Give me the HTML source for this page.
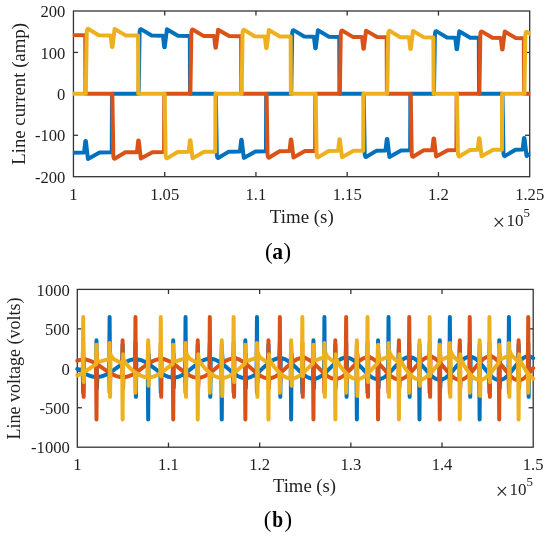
<!DOCTYPE html><html><head><meta charset="utf-8"><title>Line current and line voltage</title><style>html,body{margin:0;padding:0;background:#fff;width:550px;height:539px;overflow:hidden}svg{display:block}</style></head><body><svg width="550" height="539" viewBox="0 0 550 539"><rect width="550" height="539" fill="#fff"/><defs><clipPath id="ca"><rect x="72.85" y="10.40" width="457.45" height="166.90"/></clipPath><clipPath id="cb"><rect x="77.3" y="289.4" width="455.90" height="157.80"/></clipPath></defs>
<rect x="73.45" y="11.0" width="456.25" height="165.70" fill="none" stroke="#333333" stroke-width="1.3"/>
<line x1="164.70" y1="176.7" x2="164.70" y2="172.1" stroke="#333333" stroke-width="1.3"/>
<line x1="164.70" y1="11.0" x2="164.70" y2="15.6" stroke="#333333" stroke-width="1.3"/>
<line x1="255.95" y1="176.7" x2="255.95" y2="172.1" stroke="#333333" stroke-width="1.3"/>
<line x1="255.95" y1="11.0" x2="255.95" y2="15.6" stroke="#333333" stroke-width="1.3"/>
<line x1="347.20" y1="176.7" x2="347.20" y2="172.1" stroke="#333333" stroke-width="1.3"/>
<line x1="347.20" y1="11.0" x2="347.20" y2="15.6" stroke="#333333" stroke-width="1.3"/>
<line x1="438.45" y1="176.7" x2="438.45" y2="172.1" stroke="#333333" stroke-width="1.3"/>
<line x1="438.45" y1="11.0" x2="438.45" y2="15.6" stroke="#333333" stroke-width="1.3"/>
<line x1="73.45" y1="52.42" x2="78.05" y2="52.42" stroke="#333333" stroke-width="1.3"/>
<line x1="529.7" y1="52.42" x2="525.1" y2="52.42" stroke="#333333" stroke-width="1.3"/>
<line x1="73.45" y1="93.85" x2="78.05" y2="93.85" stroke="#333333" stroke-width="1.3"/>
<line x1="529.7" y1="93.85" x2="525.1" y2="93.85" stroke="#333333" stroke-width="1.3"/>
<line x1="73.45" y1="135.27" x2="78.05" y2="135.27" stroke="#333333" stroke-width="1.3"/>
<line x1="529.7" y1="135.27" x2="525.1" y2="135.27" stroke="#333333" stroke-width="1.3"/>
<rect x="77.3" y="289.4" width="455.90" height="157.80" fill="none" stroke="#333333" stroke-width="1.3"/>
<line x1="168.48" y1="447.2" x2="168.48" y2="442.59999999999997" stroke="#333333" stroke-width="1.3"/>
<line x1="168.48" y1="289.4" x2="168.48" y2="294.0" stroke="#333333" stroke-width="1.3"/>
<line x1="259.66" y1="447.2" x2="259.66" y2="442.59999999999997" stroke="#333333" stroke-width="1.3"/>
<line x1="259.66" y1="289.4" x2="259.66" y2="294.0" stroke="#333333" stroke-width="1.3"/>
<line x1="350.84" y1="447.2" x2="350.84" y2="442.59999999999997" stroke="#333333" stroke-width="1.3"/>
<line x1="350.84" y1="289.4" x2="350.84" y2="294.0" stroke="#333333" stroke-width="1.3"/>
<line x1="442.02" y1="447.2" x2="442.02" y2="442.59999999999997" stroke="#333333" stroke-width="1.3"/>
<line x1="442.02" y1="289.4" x2="442.02" y2="294.0" stroke="#333333" stroke-width="1.3"/>
<line x1="77.3" y1="328.85" x2="81.89999999999999" y2="328.85" stroke="#333333" stroke-width="1.3"/>
<line x1="533.2" y1="328.85" x2="528.6" y2="328.85" stroke="#333333" stroke-width="1.3"/>
<line x1="77.3" y1="368.30" x2="81.89999999999999" y2="368.30" stroke="#333333" stroke-width="1.3"/>
<line x1="533.2" y1="368.30" x2="528.6" y2="368.30" stroke="#333333" stroke-width="1.3"/>
<line x1="77.3" y1="407.75" x2="81.89999999999999" y2="407.75" stroke="#333333" stroke-width="1.3"/>
<line x1="533.2" y1="407.75" x2="528.6" y2="407.75" stroke="#333333" stroke-width="1.3"/>
<g clip-path="url(#ca)" fill="none" stroke-width="4.00" stroke-linejoin="round" stroke-linecap="round">
<path stroke="#0072BD" d="M-110.08 152.05 L-81.78 153.60 L-80.48 142.00 L-79.98 142.00 L-77.88 160.02 L-66.28 153.60 L-52.21 153.41 L-52.01 93.85 L-23.56 93.85 L-22.56 30.54 L-21.96 28.47 L-21.26 28.06 L-10.56 34.48 L2.53 34.66 L3.83 46.26 L4.33 46.26 L6.53 28.24 L17.53 34.66 L31.16 34.84 L31.36 93.85 L58.88 93.85 L59.88 156.61 L60.48 158.68 L61.18 159.09 L71.88 152.67 L84.06 152.49 L85.36 140.90 L85.86 140.90 L87.96 158.92 L99.56 152.49 L111.78 152.32 L111.98 93.85 L138.63 93.85 L139.63 31.62 L140.23 29.55 L140.93 29.14 L151.63 35.56 L162.93 35.73 L164.23 47.33 L164.73 47.33 L166.93 29.31 L177.93 35.73 L189.81 35.90 L190.01 93.85 L215.82 93.85 L216.82 155.56 L217.42 157.63 L218.12 158.05 L228.82 151.63 L239.91 151.46 L241.21 139.86 L241.71 139.86 L243.81 157.88 L255.41 151.46 L265.99 151.29 L266.19 93.85 L291.21 93.85 L292.21 32.64 L292.81 30.57 L293.51 30.15 L304.21 36.58 L313.93 36.74 L315.23 48.34 L315.73 48.34 L317.93 30.32 L328.93 36.74 L339.25 36.90 L339.45 93.85 L363.73 93.85 L364.73 154.58 L365.33 156.65 L366.03 157.06 L376.73 150.64 L385.53 150.48 L386.83 138.89 L387.33 138.89 L389.43 156.90 L401.03 150.48 L410.15 150.33 L410.35 93.85 L433.94 93.85 L434.94 33.59 L435.54 31.52 L436.24 31.11 L446.94 37.53 L455.26 37.68 L456.56 49.28 L457.06 49.28 L459.26 31.26 L470.26 37.68 L478.82 37.83 L479.02 93.85 L502.47 93.85 L503.47 153.65 L504.07 155.72 L504.77 156.14 L515.47 149.72 L522.67 149.57 L523.97 137.97 L524.47 137.97 L526.57 155.99 L538.17 149.57 L546.02 149.42 L546.22 93.85 L568.58 93.85 L569.58 34.49 L570.18 32.42 L570.88 32.00 L581.58 38.43 L588.70 38.57 L590.00 50.17 L590.50 50.17 L592.70 32.15 L603.70 38.57"/>
<path stroke="#D95319" d="M-110.08 35.65 L-80.63 34.10 L-80.43 93.85 L-51.66 93.85 L-50.66 157.35 L-50.06 159.42 L-49.36 159.83 L-38.66 153.41 L-25.26 153.22 L-23.96 141.62 L-23.46 141.62 L-21.36 159.64 L-9.76 153.22 L3.68 153.04 L3.88 93.85 L31.71 93.85 L32.71 30.91 L33.31 28.84 L34.01 28.42 L44.71 34.84 L57.18 35.03 L58.48 46.63 L58.98 46.63 L61.18 28.61 L72.18 35.03 L85.21 35.21 L85.41 93.85 L112.33 93.85 L113.33 156.25 L113.93 158.32 L114.63 158.74 L125.33 152.32 L136.93 152.14 L138.23 140.54 L138.73 140.54 L140.83 158.56 L152.43 152.14 L164.08 151.97 L164.28 93.85 L190.36 93.85 L191.36 31.97 L191.96 29.90 L192.66 29.48 L203.36 35.90 L214.12 36.07 L215.42 47.67 L215.92 47.67 L218.12 29.65 L229.12 36.07 L241.06 36.24 L241.26 93.85 L266.54 93.85 L267.54 155.22 L268.14 157.30 L268.84 157.71 L279.54 151.29 L289.51 151.12 L290.81 139.53 L291.31 139.53 L293.41 157.55 L305.01 151.12 L315.08 150.96 L315.28 93.85 L339.80 93.85 L340.80 32.96 L341.40 30.89 L342.10 30.48 L352.80 36.90 L362.03 37.06 L363.33 48.66 L363.83 48.66 L366.03 30.64 L377.03 37.06 L386.68 37.22 L386.88 93.85 L410.70 93.85 L411.70 154.26 L412.30 156.33 L413.00 156.75 L423.70 150.33 L432.24 150.17 L433.54 138.57 L434.04 138.57 L436.14 156.59 L447.74 150.17 L456.41 150.02 L456.61 93.85 L479.37 93.85 L480.37 33.90 L480.97 31.82 L481.67 31.41 L492.37 37.83 L500.77 37.98 L502.07 49.58 L502.57 49.58 L504.77 31.56 L515.77 37.98 L523.82 38.13 L524.02 93.85 L546.57 93.85 L547.57 153.36 L548.17 155.43 L548.87 155.84 L559.57 149.42 L566.88 149.27 L568.18 137.68 L568.68 137.68 L570.78 155.70 L582.38 149.27 L589.85 149.13 L590.05 93.85"/>
<path stroke="#EDB120" d="M-110.08 93.85 L-80.08 93.85 L-79.08 30.16 L-78.48 28.09 L-77.78 27.68 L-67.08 34.10 L-53.36 34.29 L-52.06 45.89 L-51.56 45.89 L-49.36 27.87 L-38.36 34.29 L-24.11 34.48 L-23.91 93.85 L4.23 93.85 L5.23 156.97 L5.83 159.05 L6.53 159.46 L17.23 153.04 L30.01 152.86 L31.31 141.26 L31.81 141.26 L33.91 159.28 L45.51 152.86 L58.33 152.67 L58.53 93.85 L85.76 93.85 L86.76 31.27 L87.36 29.20 L88.06 28.78 L98.76 35.21 L110.63 35.38 L111.93 46.98 L112.43 46.98 L114.63 28.96 L125.63 35.38 L138.08 35.56 L138.28 93.85 L164.63 93.85 L165.63 155.90 L166.23 157.98 L166.93 158.39 L177.63 151.97 L188.66 151.80 L189.96 140.20 L190.46 140.20 L192.56 158.22 L204.16 151.80 L215.27 151.63 L215.47 93.85 L241.61 93.85 L242.61 32.31 L243.21 30.24 L243.91 29.82 L254.61 36.24 L264.84 36.41 L266.14 48.01 L266.64 48.01 L268.84 29.99 L279.84 36.41 L290.66 36.58 L290.86 93.85 L315.63 93.85 L316.63 154.90 L317.23 156.97 L317.93 157.38 L328.63 150.96 L338.10 150.80 L339.40 139.20 L339.90 139.20 L342.00 157.22 L353.60 150.80 L363.18 150.64 L363.38 93.85 L387.23 93.85 L388.23 33.28 L388.83 31.21 L389.53 30.80 L400.23 37.22 L409.00 37.37 L410.30 48.97 L410.80 48.97 L413.00 30.95 L424.00 37.37 L433.39 37.53 L433.59 93.85 L456.96 93.85 L457.96 153.95 L458.56 156.03 L459.26 156.44 L469.96 150.02 L477.67 149.87 L478.97 138.27 L479.47 138.27 L481.57 156.29 L493.17 149.87 L501.92 149.72 L502.12 93.85 L524.37 93.85 L525.37 34.20 L525.97 32.12 L526.67 31.71 L537.37 38.13 L544.87 38.28 L546.17 49.88 L546.67 49.88 L548.87 31.86 L559.87 38.28 L568.03 38.43 L568.23 93.85 L590.40 93.85 L591.40 153.06 L592.00 155.14 L592.70 155.55 L603.40 149.13"/>
</g>
<g fill="none" stroke-width="4.00" stroke-linejoin="round" stroke-linecap="round">
<path stroke="#0072BD" d="M77.30 368.84 L77.80 369.18 L78.30 369.51 L78.80 369.84 L79.30 370.16 L79.80 370.49 L80.30 370.81 L80.80 371.13 L81.30 371.44 L81.80 371.75 L82.30 372.06 L82.75 372.33 L83.20 392.76 L83.65 372.85 L83.80 372.94 L84.30 373.23 L84.80 373.50 L85.30 373.77 L85.80 374.03 L86.30 374.28 L86.80 374.52 L87.30 374.75 L87.80 374.98 L88.30 375.19 L88.80 375.39 L89.30 375.58 L89.80 375.76 L90.30 375.93 L90.80 376.09 L91.30 376.23 L91.80 376.36 L92.30 376.48 L92.80 376.59 L93.30 376.69 L93.80 376.77 L94.30 376.84 L94.80 376.89 L95.30 376.93 L95.80 376.96 L96.03 376.97 L96.48 340.29 L96.93 388.02 L97.38 376.96 L97.80 376.94 L98.30 376.90 L98.80 376.85 L99.30 376.78 L99.80 376.70 L100.30 376.61 L100.80 376.50 L101.30 376.38 L101.80 376.24 L102.30 376.10 L102.80 375.94 L103.30 375.77 L103.80 375.59 L104.30 375.39 L104.80 375.19 L105.30 374.97 L105.80 374.74 L106.30 374.50 L106.80 374.25 L107.30 373.99 L107.80 373.73 L108.30 373.45 L108.80 373.17 L109.16 372.95 L109.61 317.01 L110.06 382.27 L110.51 372.13 L110.80 371.94 L111.30 371.62 L111.80 371.29 L112.30 370.96 L112.80 370.62 L113.30 370.28 L113.80 369.93 L114.30 369.58 L114.80 369.23 L115.30 368.88 L115.80 368.52 L116.30 368.16 L116.80 367.81 L117.30 367.45 L117.80 367.10 L118.30 366.75 L118.80 366.40 L119.30 366.05 L119.80 365.71 L120.30 365.37 L120.80 365.03 L121.30 364.70 L121.80 364.38 L122.16 364.15 L122.61 344.63 L123.06 363.59 L123.30 363.44 L123.80 363.14 L124.30 362.84 L124.80 362.56 L125.30 362.29 L125.80 362.02 L126.30 361.77 L126.80 361.53 L127.30 361.29 L127.80 361.07 L128.30 360.86 L128.80 360.67 L129.30 360.48 L129.80 360.31 L130.30 360.15 L130.80 360.01 L131.30 359.87 L131.80 359.76 L132.30 359.65 L132.80 359.56 L133.30 359.49 L133.80 359.43 L134.30 359.38 L134.80 359.35 L135.01 359.34 L135.46 342.97 L135.91 396.86 L136.36 359.35 L136.80 359.38 L137.30 359.42 L137.80 359.48 L138.30 359.56 L138.80 359.65 L139.30 359.75 L139.80 359.87 L140.30 360.00 L140.80 360.15 L141.30 360.31 L141.80 360.49 L142.30 360.68 L142.80 360.88 L143.30 361.09 L143.80 361.32 L144.30 361.56 L144.80 361.81 L145.30 362.07 L145.80 362.34 L146.30 362.62 L146.80 362.92 L147.30 363.22 L147.73 363.48 L148.18 419.58 L148.63 354.33 L149.08 364.37 L149.30 364.52 L149.80 364.86 L150.30 365.21 L150.80 365.57 L151.30 365.93 L151.80 366.30 L152.30 366.67 L152.80 367.04 L153.30 367.41 L153.80 367.79 L154.30 368.17 L154.80 368.55 L155.30 368.93 L155.80 369.31 L156.30 369.68 L156.80 370.06 L157.30 370.43 L157.80 370.80 L158.30 371.16 L158.80 371.52 L159.30 371.88 L159.80 372.22 L160.32 372.58 L160.77 392.76 L161.22 373.18 L161.80 373.55 L162.30 373.87 L162.80 374.17 L163.30 374.46 L163.80 374.75 L164.30 375.02 L164.80 375.28 L165.30 375.53 L165.80 375.76 L166.30 375.98 L166.80 376.19 L167.30 376.39 L167.80 376.57 L168.30 376.74 L168.80 376.89 L169.30 377.03 L169.80 377.15 L170.30 377.25 L170.80 377.34 L171.30 377.42 L171.80 377.47 L172.30 377.52 L172.77 377.54 L173.22 340.29 L173.67 388.02 L174.12 377.53 L174.30 377.52 L174.80 377.48 L175.30 377.42 L175.80 377.35 L176.30 377.26 L176.80 377.15 L177.30 377.03 L177.80 376.89 L178.30 376.74 L178.80 376.57 L179.30 376.39 L179.80 376.19 L180.30 375.97 L180.80 375.75 L181.30 375.50 L181.80 375.25 L182.30 374.98 L182.80 374.70 L183.30 374.41 L183.80 374.11 L184.30 373.80 L184.80 373.47 L185.10 373.28 L185.55 317.01 L186.00 382.27 L186.45 372.34 L186.80 372.08 L187.30 371.71 L187.80 371.34 L188.30 370.95 L188.80 370.57 L189.30 370.17 L189.80 369.78 L190.30 369.38 L190.80 368.98 L191.30 368.58 L191.80 368.18 L192.30 367.77 L192.80 367.37 L193.30 366.97 L193.80 366.57 L194.30 366.17 L194.80 365.78 L195.30 365.39 L195.80 365.01 L196.30 364.63 L196.80 364.26 L197.30 363.90 L197.75 344.63 L198.20 363.26 L198.30 363.19 L198.80 362.85 L199.30 362.51 L199.80 362.19 L200.30 361.88 L200.80 361.59 L201.30 361.30 L201.80 361.03 L202.30 360.77 L202.80 360.52 L203.30 360.29 L203.80 360.07 L204.30 359.87 L204.80 359.69 L205.30 359.52 L205.80 359.37 L206.30 359.23 L206.80 359.11 L207.30 359.01 L207.80 358.92 L208.30 358.86 L208.80 358.81 L209.37 358.77 L209.82 342.97 L210.27 396.86 L210.72 358.78 L211.30 358.83 L211.80 358.89 L212.30 358.97 L212.80 359.06 L213.30 359.17 L213.80 359.30 L214.30 359.45 L214.80 359.62 L215.30 359.80 L215.80 360.00 L216.30 360.21 L216.80 360.44 L217.30 360.69 L217.80 360.95 L218.30 361.22 L218.80 361.51 L219.30 361.81 L219.80 362.13 L220.30 362.45 L220.80 362.79 L221.33 363.16 L221.78 419.58 L222.23 354.33 L222.68 364.16 L222.80 364.25 L223.30 364.64 L223.80 365.04 L224.30 365.44 L224.80 365.85 L225.30 366.26 L225.80 366.68 L226.30 367.11 L226.80 367.53 L227.30 367.96 L227.80 368.39 L228.30 368.81 L228.80 369.24 L229.30 369.67 L229.80 370.09 L230.30 370.51 L230.80 370.93 L231.30 371.34 L231.80 371.75 L232.30 372.15 L232.80 372.54 L233.17 372.82 L233.62 392.76 L234.07 373.50 L234.30 373.67 L234.80 374.03 L235.30 374.38 L235.80 374.71 L236.30 375.04 L236.80 375.35 L237.30 375.65 L237.80 375.93 L238.30 376.20 L238.80 376.45 L239.30 376.68 L239.80 376.90 L240.30 377.11 L240.80 377.29 L241.30 377.46 L241.80 377.61 L242.30 377.74 L242.80 377.85 L243.30 377.94 L243.80 378.02 L244.30 378.07 L244.89 378.11 L245.34 340.29 L245.79 388.02 L246.24 378.10 L246.80 378.05 L247.30 377.99 L247.80 377.90 L248.30 377.80 L248.80 377.68 L249.30 377.54 L249.80 377.37 L250.30 377.20 L250.80 377.00 L251.30 376.78 L251.80 376.55 L252.30 376.30 L252.80 376.03 L253.30 375.75 L253.80 375.45 L254.30 375.14 L254.80 374.81 L255.30 374.47 L255.80 374.12 L256.30 373.76 L256.51 373.60 L256.96 317.01 L257.41 382.27 L257.86 372.54 L258.30 372.18 L258.80 371.76 L259.30 371.33 L259.80 370.90 L260.30 370.46 L260.80 370.02 L261.30 369.57 L261.80 369.12 L262.30 368.67 L262.80 368.22 L263.30 367.76 L263.80 367.31 L264.30 366.86 L264.80 366.41 L265.30 365.97 L265.80 365.53 L266.30 365.09 L266.80 364.66 L267.30 364.24 L267.80 363.83 L268.01 363.66 L268.46 344.63 L268.91 362.94 L269.30 362.64 L269.80 362.26 L270.30 361.90 L270.80 361.55 L271.30 361.21 L271.80 360.89 L272.30 360.58 L272.80 360.29 L273.30 360.02 L273.80 359.76 L274.30 359.52 L274.80 359.30 L275.30 359.10 L275.80 358.92 L276.30 358.76 L276.80 358.62 L277.30 358.49 L277.80 358.39 L278.30 358.31 L278.80 358.25 L279.30 358.21 L279.41 358.21 L279.86 342.97 L280.31 396.86 L280.76 358.22 L281.30 358.27 L281.80 358.34 L282.30 358.43 L282.80 358.55 L283.30 358.68 L283.80 358.83 L284.30 359.01 L284.80 359.20 L285.30 359.42 L285.80 359.65 L286.30 359.90 L286.80 360.17 L287.30 360.46 L287.80 360.77 L288.30 361.09 L288.80 361.43 L289.30 361.78 L289.80 362.15 L290.30 362.53 L290.70 362.84 L291.15 419.58 L291.60 354.33 L292.05 363.96 L292.30 364.18 L292.80 364.62 L293.30 365.07 L293.80 365.52 L294.30 365.98 L294.80 366.45 L295.30 366.92 L295.80 367.40 L296.30 367.88 L296.80 368.35 L297.30 368.83 L297.80 369.31 L298.30 369.79 L298.80 370.26 L299.30 370.73 L299.80 371.20 L300.30 371.66 L300.80 372.11 L301.30 372.55 L301.89 373.06 L302.34 392.76 L302.79 373.82 L303.30 374.24 L303.80 374.63 L304.30 375.01 L304.80 375.37 L305.30 375.72 L305.80 376.05 L306.30 376.37 L306.80 376.67 L307.30 376.95 L307.80 377.21 L308.30 377.45 L308.80 377.67 L309.30 377.87 L309.80 378.05 L310.30 378.21 L310.80 378.34 L311.30 378.45 L311.80 378.54 L312.30 378.61 L312.80 378.66 L312.98 378.67 L313.43 340.29 L313.88 388.02 L314.33 378.65 L314.80 378.60 L315.30 378.53 L315.80 378.44 L316.30 378.32 L316.80 378.18 L317.30 378.01 L317.80 377.83 L318.30 377.62 L318.80 377.39 L319.30 377.14 L319.80 376.87 L320.30 376.58 L320.80 376.27 L321.30 375.94 L321.80 375.60 L322.30 375.24 L322.80 374.86 L323.30 374.47 L323.80 374.06 L323.97 373.92 L324.42 317.01 L324.87 382.27 L325.32 372.74 L325.80 372.30 L326.30 371.83 L326.80 371.35 L327.30 370.87 L327.80 370.38 L328.30 369.88 L328.80 369.38 L329.30 368.88 L329.80 368.38 L330.30 367.87 L330.80 367.37 L331.30 366.86 L331.80 366.36 L332.30 365.87 L332.80 365.38 L333.30 364.89 L333.80 364.42 L334.30 363.95 L334.88 363.42 L335.33 344.63 L335.78 362.63 L336.30 362.18 L336.80 361.77 L337.30 361.37 L337.80 360.99 L338.30 360.62 L338.80 360.28 L339.30 359.95 L339.80 359.64 L340.30 359.35 L340.80 359.08 L341.30 358.84 L341.80 358.61 L342.30 358.41 L342.80 358.23 L343.30 358.08 L343.80 357.94 L344.30 357.84 L344.80 357.75 L345.30 357.70 L345.69 357.67 L346.14 342.97 L346.59 396.86 L347.04 357.69 L347.30 357.71 L347.80 357.78 L348.30 357.87 L348.80 357.99 L349.30 358.13 L349.80 358.30 L350.30 358.49 L350.80 358.70 L351.30 358.94 L351.80 359.20 L352.30 359.48 L352.80 359.79 L353.30 360.11 L353.80 360.45 L354.30 360.81 L354.80 361.20 L355.30 361.59 L355.80 362.01 L356.30 362.44 L356.41 362.53 L356.86 419.58 L357.31 354.33 L357.76 363.77 L358.30 364.30 L358.80 364.79 L359.30 365.29 L359.80 365.80 L360.30 366.32 L360.80 366.84 L361.30 367.37 L361.80 367.90 L362.30 368.43 L362.80 368.96 L363.30 369.49 L363.80 370.01 L364.30 370.54 L364.80 371.06 L365.30 371.57 L365.80 372.07 L366.30 372.57 L366.80 373.05 L367.05 373.29 L367.50 392.76 L367.95 374.12 L368.30 374.44 L368.80 374.88 L369.30 375.30 L369.80 375.70 L370.30 376.09 L370.80 376.46 L371.30 376.80 L371.80 377.13 L372.30 377.44 L372.80 377.72 L373.30 377.98 L373.80 378.22 L374.30 378.43 L374.80 378.62 L375.30 378.78 L375.80 378.91 L376.30 379.02 L376.80 379.11 L377.30 379.17 L377.60 379.19 L378.05 340.29 L378.50 388.02 L378.95 379.17 L379.30 379.13 L379.80 379.05 L380.30 378.95 L380.80 378.81 L381.30 378.66 L381.80 378.47 L382.30 378.26 L382.80 378.03 L383.30 377.77 L383.80 377.49 L384.30 377.18 L384.80 376.86 L385.30 376.51 L385.80 376.14 L386.30 375.74 L386.80 375.34 L387.30 374.91 L387.80 374.46 L388.08 374.21 L388.53 317.01 L388.98 382.27 L389.43 372.91 L389.80 372.53 L390.30 372.02 L390.80 371.49 L391.30 370.96 L391.80 370.42 L392.30 369.87 L392.80 369.32 L393.30 368.77 L393.80 368.22 L394.30 367.66 L394.80 367.11 L395.30 366.56 L395.80 366.01 L396.30 365.47 L396.80 364.93 L397.30 364.40 L397.80 363.89 L398.30 363.38 L398.47 363.21 L398.92 344.63 L399.37 362.33 L399.80 361.93 L400.30 361.48 L400.80 361.04 L401.30 360.63 L401.80 360.23 L402.30 359.85 L402.80 359.49 L403.30 359.16 L403.80 358.85 L404.30 358.56 L404.80 358.30 L405.30 358.06 L405.80 357.85 L406.30 357.67 L406.80 357.51 L407.30 357.39 L407.80 357.29 L408.30 357.21 L408.79 357.17 L409.24 342.97 L409.69 396.86 L410.14 357.20 L410.30 357.21 L410.80 357.28 L411.30 357.39 L411.80 357.51 L412.30 357.67 L412.80 357.86 L413.30 358.07 L413.80 358.31 L414.30 358.58 L414.80 358.87 L415.30 359.18 L415.80 359.52 L416.30 359.89 L416.80 360.27 L417.30 360.68 L417.80 361.11 L418.30 361.55 L418.80 362.02 L419.04 362.25 L419.49 419.58 L419.94 354.33 L420.39 363.61 L420.80 364.04 L421.30 364.58 L421.80 365.12 L422.30 365.68 L422.80 366.25 L423.30 366.82 L423.80 367.39 L424.30 367.97 L424.80 368.55 L425.30 369.13 L425.80 369.71 L426.30 370.28 L426.80 370.85 L427.30 371.41 L427.80 371.96 L428.30 372.51 L428.80 373.04 L429.22 373.49 L429.67 392.76 L430.12 374.40 L430.30 374.57 L430.80 375.05 L431.30 375.52 L431.80 375.96 L432.30 376.38 L432.80 376.78 L433.30 377.16 L433.80 377.52 L434.30 377.85 L434.80 378.16 L435.30 378.44 L435.80 378.69 L436.30 378.91 L436.80 379.11 L437.30 379.28 L437.80 379.42 L438.30 379.53 L438.80 379.60 L439.34 379.65 L439.79 340.29 L440.24 388.02 L440.69 379.63 L440.80 379.61 L441.30 379.54 L441.80 379.44 L442.30 379.30 L442.80 379.14 L443.30 378.94 L443.80 378.72 L444.30 378.47 L444.80 378.19 L445.30 377.88 L445.80 377.55 L446.30 377.19 L446.80 376.80 L447.30 376.40 L447.80 375.97 L448.30 375.52 L448.80 375.05 L449.39 374.48 L449.84 317.01 L450.29 382.27 L450.74 373.06 L451.30 372.44 L451.80 371.88 L452.30 371.30 L452.80 370.72 L453.30 370.13 L453.80 369.54 L454.30 368.94 L454.80 368.34 L455.30 367.74 L455.80 367.13 L456.30 366.54 L456.80 365.94 L457.30 365.36 L457.80 364.78 L458.30 364.21 L458.80 363.65 L459.37 363.02 L459.82 344.63 L460.27 362.08 L460.80 361.55 L461.30 361.06 L461.80 360.60 L462.30 360.15 L462.80 359.73 L463.30 359.34 L463.80 358.96 L464.30 358.62 L464.80 358.30 L465.30 358.00 L465.80 357.74 L466.30 357.50 L466.80 357.30 L467.30 357.12 L467.80 356.98 L468.30 356.87 L468.80 356.79 L469.30 356.74 L469.75 342.97 L470.20 396.86 L470.65 356.77 L470.80 356.79 L471.30 356.87 L471.80 356.98 L472.30 357.13 L472.80 357.30 L473.30 357.51 L473.80 357.75 L474.30 358.02 L474.80 358.31 L475.30 358.64 L475.80 358.99 L476.30 359.37 L476.80 359.77 L477.30 360.20 L477.80 360.65 L478.30 361.13 L478.80 361.62 L479.18 362.01 L479.63 419.58 L480.08 354.33 L480.53 363.47 L480.80 363.78 L481.30 364.36 L481.80 364.95 L482.30 365.55 L482.80 366.15 L483.30 366.77 L483.80 367.39 L484.30 368.01 L484.80 368.63 L485.30 369.25 L485.80 369.87 L486.30 370.49 L486.80 371.10 L487.30 371.70 L487.80 372.29 L488.30 372.87 L488.80 373.44 L489.00 373.66 L489.45 392.76 L489.90 374.64 L490.30 375.06 L490.80 375.56 L491.30 376.05 L491.80 376.51 L492.30 376.95 L492.80 377.36 L493.30 377.75 L493.80 378.11 L494.30 378.44 L494.80 378.75 L495.30 379.02 L495.80 379.27 L496.30 379.48 L496.80 379.66 L497.30 379.81 L497.80 379.92 L498.30 380.00 L498.76 380.05 L499.21 340.29 L499.66 388.02 L500.11 380.01 L500.30 379.99 L500.80 379.90 L501.30 379.78 L501.80 379.62 L502.30 379.44 L502.80 379.22 L503.30 378.96 L503.80 378.68 L504.30 378.37 L504.80 378.02 L505.30 377.65 L505.80 377.25 L506.30 376.83 L506.80 376.38 L507.30 375.91 L507.80 375.41 L508.30 374.89 L508.48 374.70 L508.93 317.01 L509.38 382.27 L509.83 373.19 L510.30 372.64 L510.80 372.04 L511.30 371.43 L511.80 370.81 L512.30 370.18 L512.80 369.54 L513.30 368.90 L513.80 368.26 L514.30 367.62 L514.80 366.98 L515.30 366.35 L515.80 365.72 L516.30 365.09 L516.80 364.48 L517.30 363.88 L517.80 363.29 L518.16 362.87 L518.61 344.63 L519.06 361.87 L519.30 361.61 L519.80 361.08 L520.30 360.58 L520.80 360.10 L521.30 359.64 L521.80 359.21 L522.30 358.80 L522.80 358.42 L523.30 358.08 L523.80 357.76 L524.30 357.47 L524.80 357.22 L525.30 356.99 L525.80 356.80 L526.30 356.65 L526.80 356.53 L527.30 356.44 L527.79 356.39 L528.24 342.97 L528.69 396.86 L529.14 356.43 L529.30 356.45 L529.80 356.54 L530.30 356.66 L530.80 356.82 L531.30 357.02 L531.80 357.25 L532.30 357.51 L532.80 357.80 L533.20 358.06"/>
<path stroke="#D95319" d="M77.30 360.65 L77.80 360.50 L78.30 360.37 L78.80 360.25 L79.30 360.14 L79.80 360.04 L80.30 359.95 L80.80 359.88 L81.30 359.82 L81.80 359.78 L82.30 359.74 L82.75 359.72 L83.20 342.97 L83.65 396.86 L84.10 358.47 L84.30 358.60 L84.80 358.89 L85.30 359.13 L85.80 359.34 L86.30 359.53 L86.80 359.71 L87.30 359.88 L87.80 360.05 L88.30 360.21 L88.80 360.38 L89.30 360.56 L89.80 360.74 L90.30 360.93 L90.80 361.12 L91.30 361.33 L91.80 361.54 L92.30 361.76 L92.80 362.00 L93.30 362.24 L93.80 362.48 L94.30 362.74 L94.80 363.01 L95.30 363.28 L95.80 363.56 L96.03 363.70 L96.48 419.58 L96.93 354.33 L97.38 364.51 L97.80 364.77 L98.30 365.09 L98.80 365.41 L99.30 365.74 L99.80 366.07 L100.30 366.41 L100.80 366.75 L101.30 367.09 L101.80 367.44 L102.30 367.78 L102.80 368.13 L103.30 368.48 L103.80 368.82 L104.30 369.17 L104.80 369.52 L105.30 369.86 L105.80 370.21 L106.30 370.54 L106.80 370.88 L107.30 371.21 L107.80 371.54 L108.30 371.87 L108.80 372.18 L109.16 372.41 L109.61 392.76 L110.06 372.96 L110.30 373.10 L110.80 373.40 L111.30 373.68 L111.80 373.96 L112.30 374.23 L112.80 374.49 L113.30 374.74 L113.80 374.98 L114.30 375.21 L114.80 375.42 L115.30 375.63 L115.80 375.83 L116.30 376.01 L116.80 376.18 L117.30 376.33 L117.80 376.48 L118.30 376.61 L118.80 376.73 L119.30 376.83 L119.80 376.92 L120.30 377.00 L120.80 377.06 L121.30 377.11 L121.80 377.14 L122.16 377.16 L122.61 340.29 L123.06 388.02 L123.51 377.15 L123.80 377.14 L124.30 377.10 L124.80 377.04 L125.30 376.98 L125.80 376.89 L126.30 376.80 L126.80 376.69 L127.30 376.56 L127.80 376.42 L128.30 376.27 L128.80 376.10 L129.30 375.93 L129.80 375.73 L130.30 375.53 L130.80 375.31 L131.30 375.09 L131.80 374.85 L132.30 374.60 L132.80 374.33 L133.30 374.06 L133.80 373.78 L134.30 373.49 L134.80 373.19 L135.01 373.06 L135.46 317.01 L135.91 382.27 L136.36 372.20 L136.80 371.91 L137.30 371.57 L137.80 371.22 L138.30 370.87 L138.80 370.51 L139.30 370.15 L139.80 369.79 L140.30 369.42 L140.80 369.06 L141.30 368.69 L141.80 368.32 L142.30 367.94 L142.80 367.57 L143.30 367.20 L143.80 366.84 L144.30 366.47 L144.80 366.11 L145.30 365.75 L145.80 365.39 L146.30 365.04 L146.80 364.69 L147.30 364.35 L147.73 364.07 L148.18 344.63 L148.63 363.48 L148.80 363.37 L149.30 363.05 L149.80 362.75 L150.30 362.45 L150.80 362.17 L151.30 361.89 L151.80 361.63 L152.30 361.37 L152.80 361.13 L153.30 360.90 L153.80 360.68 L154.30 360.48 L154.80 360.29 L155.30 360.11 L155.80 359.95 L156.30 359.80 L156.80 359.67 L157.30 359.55 L157.80 359.44 L158.30 359.35 L158.80 359.28 L159.30 359.22 L159.80 359.18 L160.32 359.15 L160.77 342.97 L161.22 396.86 L161.67 357.91 L161.80 358.00 L162.30 358.29 L162.80 358.55 L163.30 358.78 L163.80 358.99 L164.30 359.18 L164.80 359.37 L165.30 359.57 L165.80 359.76 L166.30 359.96 L166.80 360.16 L167.30 360.37 L167.80 360.60 L168.30 360.83 L168.80 361.07 L169.30 361.33 L169.80 361.59 L170.30 361.86 L170.80 362.15 L171.30 362.45 L171.80 362.75 L172.30 363.07 L172.77 363.37 L173.22 419.58 L173.67 354.33 L174.12 364.29 L174.30 364.42 L174.80 364.78 L175.30 365.15 L175.80 365.52 L176.30 365.90 L176.80 366.28 L177.30 366.67 L177.80 367.05 L178.30 367.45 L178.80 367.84 L179.30 368.23 L179.80 368.63 L180.30 369.02 L180.80 369.42 L181.30 369.81 L181.80 370.20 L182.30 370.59 L182.80 370.97 L183.30 371.35 L183.80 371.72 L184.30 372.09 L184.80 372.45 L185.10 372.66 L185.55 392.76 L186.00 373.28 L186.30 373.49 L186.80 373.82 L187.30 374.14 L187.80 374.45 L188.30 374.75 L188.80 375.04 L189.30 375.32 L189.80 375.58 L190.30 375.83 L190.80 376.07 L191.30 376.29 L191.80 376.50 L192.30 376.69 L192.80 376.87 L193.30 377.03 L193.80 377.18 L194.30 377.31 L194.80 377.42 L195.30 377.52 L195.80 377.60 L196.30 377.66 L196.80 377.70 L197.30 377.73 L197.75 340.29 L198.20 388.02 L198.65 377.72 L198.80 377.71 L199.30 377.67 L199.80 377.61 L200.30 377.53 L200.80 377.44 L201.30 377.32 L201.80 377.20 L202.30 377.05 L202.80 376.89 L203.30 376.71 L203.80 376.51 L204.30 376.30 L204.80 376.08 L205.30 375.84 L205.80 375.58 L206.30 375.31 L206.80 375.03 L207.30 374.73 L207.80 374.43 L208.30 374.11 L208.80 373.78 L209.37 373.39 L209.82 317.01 L210.27 382.27 L210.72 372.41 L211.30 371.97 L211.80 371.58 L212.30 371.19 L212.80 370.78 L213.30 370.38 L213.80 369.97 L214.30 369.56 L214.80 369.14 L215.30 368.72 L215.80 368.30 L216.30 367.88 L216.80 367.46 L217.30 367.04 L217.80 366.63 L218.30 366.21 L218.80 365.81 L219.30 365.40 L219.80 365.00 L220.30 364.61 L220.80 364.22 L221.33 363.82 L221.78 344.63 L222.23 363.15 L222.80 362.75 L223.30 362.40 L223.80 362.07 L224.30 361.74 L224.80 361.43 L225.30 361.14 L225.80 360.86 L226.30 360.59 L226.80 360.33 L227.30 360.09 L227.80 359.87 L228.30 359.67 L228.80 359.48 L229.30 359.30 L229.80 359.15 L230.30 359.01 L230.80 358.89 L231.30 358.79 L231.80 358.71 L232.30 358.65 L232.80 358.60 L233.17 358.58 L233.62 342.97 L234.07 396.86 L234.52 357.34 L234.80 357.52 L235.30 357.82 L235.80 358.07 L236.30 358.31 L236.80 358.53 L237.30 358.75 L237.80 358.97 L238.30 359.18 L238.80 359.41 L239.30 359.64 L239.80 359.88 L240.30 360.14 L240.80 360.40 L241.30 360.68 L241.80 360.97 L242.30 361.28 L242.80 361.59 L243.30 361.92 L243.80 362.26 L244.30 362.61 L244.89 363.05 L245.34 419.58 L245.79 354.33 L246.24 364.09 L246.80 364.54 L247.30 364.95 L247.80 365.37 L248.30 365.80 L248.80 366.23 L249.30 366.66 L249.80 367.10 L250.30 367.54 L250.80 367.99 L251.30 368.43 L251.80 368.88 L252.30 369.32 L252.80 369.76 L253.30 370.20 L253.80 370.64 L254.30 371.07 L254.80 371.50 L255.30 371.92 L255.80 372.33 L256.30 372.74 L256.51 372.90 L256.96 392.76 L257.41 373.61 L257.80 373.91 L258.30 374.28 L258.80 374.63 L259.30 374.98 L259.80 375.31 L260.30 375.62 L260.80 375.93 L261.30 376.21 L261.80 376.48 L262.30 376.74 L262.80 376.97 L263.30 377.19 L263.80 377.39 L264.30 377.57 L264.80 377.73 L265.30 377.88 L265.80 378.00 L266.30 378.10 L266.80 378.18 L267.30 378.25 L267.80 378.29 L268.01 378.30 L268.46 340.29 L268.91 388.02 L269.36 378.28 L269.80 378.25 L270.30 378.18 L270.80 378.10 L271.30 377.99 L271.80 377.87 L272.30 377.72 L272.80 377.56 L273.30 377.37 L273.80 377.17 L274.30 376.95 L274.80 376.70 L275.30 376.44 L275.80 376.17 L276.30 375.87 L276.80 375.56 L277.30 375.24 L277.80 374.89 L278.30 374.54 L278.80 374.17 L279.30 373.79 L279.41 373.71 L279.86 317.01 L280.31 382.27 L280.76 372.61 L281.30 372.14 L281.80 371.71 L282.30 371.26 L282.80 370.81 L283.30 370.35 L283.80 369.89 L284.30 369.43 L284.80 368.96 L285.30 368.49 L285.80 368.02 L286.30 367.55 L286.80 367.08 L287.30 366.61 L287.80 366.15 L288.30 365.69 L288.80 365.24 L289.30 364.79 L289.80 364.35 L290.30 363.91 L290.70 363.58 L291.15 344.63 L291.60 362.83 L291.80 362.67 L292.30 362.28 L292.80 361.89 L293.30 361.53 L293.80 361.17 L294.30 360.84 L294.80 360.51 L295.30 360.21 L295.80 359.92 L296.30 359.65 L296.80 359.40 L297.30 359.17 L297.80 358.96 L298.30 358.77 L298.80 358.60 L299.30 358.45 L299.80 358.32 L300.30 358.21 L300.80 358.13 L301.30 358.07 L301.89 358.02 L302.34 342.97 L302.79 396.86 L303.24 356.78 L303.80 357.15 L304.30 357.43 L304.80 357.69 L305.30 357.94 L305.80 358.18 L306.30 358.42 L306.80 358.67 L307.30 358.92 L307.80 359.18 L308.30 359.46 L308.80 359.75 L309.30 360.05 L309.80 360.37 L310.30 360.70 L310.80 361.05 L311.30 361.41 L311.80 361.78 L312.30 362.17 L312.80 362.58 L312.98 362.73 L313.43 419.58 L313.88 354.33 L314.33 363.89 L314.80 364.32 L315.30 364.78 L315.80 365.25 L316.30 365.72 L316.80 366.20 L317.30 366.69 L317.80 367.18 L318.30 367.68 L318.80 368.17 L319.30 368.67 L319.80 369.17 L320.30 369.66 L320.80 370.15 L321.30 370.64 L321.80 371.12 L322.30 371.60 L322.80 372.07 L323.30 372.53 L323.80 372.98 L323.97 373.14 L324.42 392.76 L324.87 373.92 L325.30 374.28 L325.80 374.69 L326.30 375.08 L326.80 375.46 L327.30 375.83 L327.80 376.17 L328.30 376.50 L328.80 376.81 L329.30 377.10 L329.80 377.37 L330.30 377.62 L330.80 377.84 L331.30 378.05 L331.80 378.23 L332.30 378.39 L332.80 378.53 L333.30 378.64 L333.80 378.73 L334.30 378.80 L334.88 378.85 L335.33 340.29 L335.78 388.02 L336.23 378.83 L336.80 378.76 L337.30 378.68 L337.80 378.58 L338.30 378.45 L338.80 378.29 L339.30 378.12 L339.80 377.92 L340.30 377.69 L340.80 377.45 L341.30 377.18 L341.80 376.89 L342.30 376.58 L342.80 376.26 L343.30 375.91 L343.80 375.54 L344.30 375.16 L344.80 374.76 L345.30 374.35 L345.69 374.02 L346.14 317.01 L346.59 382.27 L347.04 372.80 L347.30 372.55 L347.80 372.07 L348.30 371.58 L348.80 371.08 L349.30 370.57 L349.80 370.06 L350.30 369.55 L350.80 369.03 L351.30 368.51 L351.80 367.99 L352.30 367.46 L352.80 366.94 L353.30 366.43 L353.80 365.91 L354.30 365.41 L354.80 364.90 L355.30 364.41 L355.80 363.93 L356.30 363.45 L356.41 363.35 L356.86 344.63 L357.31 362.53 L357.80 362.09 L358.30 361.67 L358.80 361.26 L359.30 360.86 L359.80 360.49 L360.30 360.13 L360.80 359.79 L361.30 359.47 L361.80 359.18 L362.30 358.90 L362.80 358.65 L363.30 358.42 L363.80 358.22 L364.30 358.04 L364.80 357.88 L365.30 357.75 L365.80 357.65 L366.30 357.57 L366.80 357.51 L367.05 357.50 L367.50 342.97 L367.95 396.86 L368.40 356.26 L368.80 356.53 L369.30 356.84 L369.80 357.12 L370.30 357.39 L370.80 357.65 L371.30 357.92 L371.80 358.19 L372.30 358.47 L372.80 358.77 L373.30 359.08 L373.80 359.40 L374.30 359.75 L374.80 360.10 L375.30 360.48 L375.80 360.87 L376.30 361.28 L376.80 361.71 L377.30 362.15 L377.60 362.42 L378.05 419.58 L378.50 354.33 L378.95 363.71 L379.30 364.06 L379.80 364.56 L380.30 365.08 L380.80 365.61 L381.30 366.14 L381.80 366.68 L382.30 367.22 L382.80 367.76 L383.30 368.31 L383.80 368.86 L384.30 369.40 L384.80 369.95 L385.30 370.49 L385.80 371.02 L386.30 371.55 L386.80 372.07 L387.30 372.58 L387.80 373.09 L388.08 373.36 L388.53 392.76 L388.98 374.22 L389.30 374.52 L389.80 374.97 L390.30 375.40 L390.80 375.82 L391.30 376.22 L391.80 376.60 L392.30 376.95 L392.80 377.29 L393.30 377.60 L393.80 377.89 L394.30 378.16 L394.80 378.40 L395.30 378.61 L395.80 378.80 L396.30 378.96 L396.80 379.10 L397.30 379.21 L397.80 379.29 L398.30 379.34 L398.47 379.35 L398.92 340.29 L399.37 388.02 L399.82 379.33 L400.30 379.27 L400.80 379.18 L401.30 379.06 L401.80 378.92 L402.30 378.75 L402.80 378.55 L403.30 378.32 L403.80 378.07 L404.30 377.79 L404.80 377.49 L405.30 377.17 L405.80 376.82 L406.30 376.45 L406.80 376.06 L407.30 375.65 L407.80 375.22 L408.30 374.77 L408.79 374.31 L409.24 317.01 L409.69 382.27 L410.14 372.97 L410.30 372.80 L410.80 372.28 L411.30 371.74 L411.80 371.20 L412.30 370.64 L412.80 370.08 L413.30 369.52 L413.80 368.95 L414.30 368.38 L414.80 367.81 L415.30 367.24 L415.80 366.67 L416.30 366.11 L416.80 365.55 L417.30 364.99 L417.80 364.45 L418.30 363.92 L418.80 363.39 L419.04 363.14 L419.49 344.63 L419.94 362.24 L420.30 361.90 L420.80 361.43 L421.30 360.98 L421.80 360.55 L422.30 360.14 L422.80 359.75 L423.30 359.38 L423.80 359.04 L424.30 358.72 L424.80 358.43 L425.30 358.16 L425.80 357.91 L426.30 357.70 L426.80 357.51 L427.30 357.36 L427.80 357.23 L428.30 357.13 L428.80 357.05 L429.22 357.02 L429.67 342.97 L430.12 396.86 L430.57 355.79 L430.80 355.95 L431.30 356.28 L431.80 356.58 L432.30 356.87 L432.80 357.15 L433.30 357.44 L433.80 357.74 L434.30 358.05 L434.80 358.37 L435.30 358.71 L435.80 359.07 L436.30 359.45 L436.80 359.85 L437.30 360.26 L437.80 360.70 L438.30 361.15 L438.80 361.62 L439.34 362.15 L439.79 419.58 L440.24 354.33 L440.69 363.55 L440.80 363.67 L441.30 364.22 L441.80 364.78 L442.30 365.35 L442.80 365.93 L443.30 366.51 L443.80 367.10 L444.30 367.69 L444.80 368.28 L445.30 368.88 L445.80 369.47 L446.30 370.06 L446.80 370.65 L447.30 371.23 L447.80 371.80 L448.30 372.36 L448.80 372.92 L449.39 373.55 L449.84 392.76 L450.29 374.48 L450.80 374.99 L451.30 375.47 L451.80 375.93 L452.30 376.37 L452.80 376.79 L453.30 377.19 L453.80 377.56 L454.30 377.90 L454.80 378.22 L455.30 378.51 L455.80 378.78 L456.30 379.01 L456.80 379.22 L457.30 379.39 L457.80 379.54 L458.30 379.65 L458.80 379.74 L459.37 379.80 L459.82 340.29 L460.27 388.02 L460.72 379.77 L461.30 379.68 L461.80 379.58 L462.30 379.44 L462.80 379.27 L463.30 379.07 L463.80 378.84 L464.30 378.58 L464.80 378.29 L465.30 377.98 L465.80 377.63 L466.30 377.26 L466.80 376.87 L467.30 376.45 L467.80 376.01 L468.30 375.55 L468.80 375.06 L469.30 374.56 L469.75 317.01 L470.20 382.27 L470.65 373.11 L470.80 372.95 L471.30 372.38 L471.80 371.80 L472.30 371.21 L472.80 370.61 L473.30 370.00 L473.80 369.39 L474.30 368.78 L474.80 368.16 L475.30 367.55 L475.80 366.94 L476.30 366.32 L476.80 365.72 L477.30 365.12 L477.80 364.53 L478.30 363.95 L478.80 363.39 L479.18 362.97 L479.63 344.63 L480.08 362.00 L480.30 361.77 L480.80 361.26 L481.30 360.77 L481.80 360.31 L482.30 359.87 L482.80 359.45 L483.30 359.05 L483.80 358.68 L484.30 358.34 L484.80 358.03 L485.30 357.74 L485.80 357.49 L486.30 357.27 L486.80 357.07 L487.30 356.91 L487.80 356.79 L488.30 356.69 L488.80 356.63 L489.00 356.61 L489.45 342.97 L489.90 396.86 L490.35 355.39 L490.80 355.71 L491.30 356.03 L491.80 356.34 L492.30 356.65 L492.80 356.96 L493.30 357.27 L493.80 357.60 L494.30 357.95 L494.80 358.31 L495.30 358.69 L495.80 359.10 L496.30 359.52 L496.80 359.97 L497.30 360.43 L497.80 360.92 L498.30 361.43 L498.76 361.92 L499.21 419.58 L499.66 354.33 L500.11 363.42 L500.30 363.64 L500.80 364.23 L501.30 364.83 L501.80 365.44 L502.30 366.06 L502.80 366.69 L503.30 367.32 L503.80 367.95 L504.30 368.59 L504.80 369.22 L505.30 369.85 L505.80 370.48 L506.30 371.10 L506.80 371.72 L507.30 372.32 L507.80 372.92 L508.30 373.50 L508.48 373.71 L508.93 392.76 L509.38 374.70 L509.80 375.15 L510.30 375.66 L510.80 376.15 L511.30 376.62 L511.80 377.07 L512.30 377.48 L512.80 377.88 L513.30 378.24 L513.80 378.58 L514.30 378.89 L514.80 379.16 L515.30 379.40 L515.80 379.62 L516.30 379.79 L516.80 379.94 L517.30 380.05 L517.80 380.12 L518.16 380.16 L518.61 340.29 L519.06 388.02 L519.51 380.12 L519.80 380.08 L520.30 379.98 L520.80 379.85 L521.30 379.68 L521.80 379.48 L522.30 379.25 L522.80 378.98 L523.30 378.69 L523.80 378.36 L524.30 378.00 L524.80 377.61 L525.30 377.20 L525.80 376.75 L526.30 376.29 L526.80 375.80 L527.30 375.28 L527.79 374.76 L528.24 317.01 L528.69 382.27 L529.14 373.22 L529.30 373.03 L529.80 372.43 L530.30 371.81 L530.80 371.19 L531.30 370.55 L531.80 369.91 L532.30 369.26 L532.80 368.61 L533.20 368.09"/>
<path stroke="#EDB120" d="M77.30 375.41 L77.80 375.22 L78.30 375.03 L78.80 374.82 L79.30 374.60 L79.80 374.37 L80.30 374.13 L80.80 373.89 L81.30 373.63 L81.80 373.37 L82.30 373.10 L82.75 372.85 L83.20 317.01 L83.65 382.11 L84.10 372.06 L84.30 371.93 L84.80 371.63 L85.30 371.31 L85.80 370.99 L86.30 370.67 L86.80 370.34 L87.30 370.01 L87.80 369.68 L88.30 369.34 L88.80 369.01 L89.30 368.67 L89.80 368.33 L90.30 367.99 L90.80 367.65 L91.30 367.31 L91.80 366.97 L92.30 366.63 L92.80 366.30 L93.30 365.97 L93.80 365.64 L94.30 365.31 L94.80 364.99 L95.30 364.68 L95.80 364.37 L96.03 364.23 L96.48 344.63 L96.93 359.60 L97.30 360.28 L97.80 360.90 L98.30 361.27 L98.80 361.47 L99.30 361.54 L99.80 361.52 L100.30 361.45 L100.80 361.34 L101.30 361.21 L101.80 361.06 L102.30 360.91 L102.80 360.75 L103.30 360.60 L103.80 360.45 L104.30 360.31 L104.80 360.17 L105.30 360.05 L105.80 359.94 L106.30 359.85 L106.80 359.76 L107.30 359.69 L107.80 359.63 L108.30 359.58 L108.80 359.55 L109.16 359.53 L109.61 342.97 L110.06 396.86 L110.51 353.80 L110.80 354.66 L111.30 355.89 L111.80 356.84 L112.30 357.58 L112.80 358.18 L113.30 358.66 L113.80 359.07 L114.30 359.41 L114.80 359.72 L115.30 359.99 L115.80 360.25 L116.30 360.50 L116.80 360.74 L117.30 360.98 L117.80 361.22 L118.30 361.47 L118.80 361.72 L119.30 361.97 L119.80 362.24 L120.30 362.51 L120.80 362.79 L121.30 363.07 L121.80 363.37 L122.16 363.58 L122.61 419.58 L123.06 354.33 L123.51 359.39 L123.80 359.94 L124.30 360.82 L124.80 361.65 L125.30 362.42 L125.80 363.14 L126.30 363.83 L126.80 364.48 L127.30 365.09 L127.80 365.68 L128.30 366.25 L128.80 366.79 L129.30 367.31 L129.80 367.81 L130.30 368.30 L130.80 368.77 L131.30 369.22 L131.80 369.66 L132.30 370.09 L132.80 370.51 L133.30 370.91 L133.80 371.30 L134.30 371.69 L134.80 372.06 L135.01 372.21 L135.46 392.76 L135.91 372.84 L136.30 373.10 L136.80 373.43 L137.30 373.75 L137.80 374.06 L138.30 374.35 L138.80 374.63 L139.30 374.90 L139.80 375.15 L140.30 375.40 L140.80 375.63 L141.30 375.84 L141.80 376.04 L142.30 376.23 L142.80 376.41 L143.30 376.57 L143.80 376.71 L144.30 376.85 L144.80 376.96 L145.30 377.06 L145.80 377.15 L146.30 377.22 L146.80 377.28 L147.30 377.32 L147.73 377.34 L148.18 340.29 L148.63 385.66 L149.08 377.33 L149.30 377.32 L149.80 377.28 L150.30 377.23 L150.80 377.16 L151.30 377.07 L151.80 376.97 L152.30 376.86 L152.80 376.73 L153.30 376.58 L153.80 376.42 L154.30 376.25 L154.80 376.06 L155.30 375.86 L155.80 375.64 L156.30 375.42 L156.80 375.18 L157.30 374.92 L157.80 374.66 L158.30 374.38 L158.80 374.10 L159.30 373.80 L159.80 373.49 L160.32 373.17 L160.77 317.01 L161.22 376.19 L161.67 372.27 L161.80 372.17 L162.30 371.82 L162.80 371.47 L163.30 371.10 L163.80 370.73 L164.30 370.36 L164.80 369.98 L165.30 369.60 L165.80 369.22 L166.30 368.83 L166.80 368.45 L167.30 368.06 L167.80 367.67 L168.30 367.29 L168.80 366.90 L169.30 366.52 L169.80 366.14 L170.30 365.77 L170.80 365.39 L171.30 365.03 L171.80 364.67 L172.30 364.31 L172.77 363.98 L173.22 344.63 L173.67 359.28 L173.80 359.53 L174.30 360.27 L174.80 360.71 L175.30 360.95 L175.80 361.04 L176.30 361.03 L176.80 360.96 L177.30 360.84 L177.80 360.69 L178.30 360.53 L178.80 360.36 L179.30 360.18 L179.80 360.01 L180.30 359.85 L180.80 359.70 L181.30 359.56 L181.80 359.43 L182.30 359.32 L182.80 359.22 L183.30 359.13 L183.80 359.06 L184.30 359.01 L184.80 358.97 L185.10 358.96 L185.55 342.97 L186.00 396.86 L186.45 353.23 L186.80 354.28 L187.30 355.47 L187.80 356.40 L188.30 357.14 L188.80 357.74 L189.30 358.23 L189.80 358.65 L190.30 359.01 L190.80 359.34 L191.30 359.64 L191.80 359.93 L192.30 360.21 L192.80 360.49 L193.30 360.77 L193.80 361.06 L194.30 361.35 L194.80 361.64 L195.30 361.95 L195.80 362.26 L196.30 362.59 L196.80 362.92 L197.30 363.25 L197.75 419.58 L198.20 354.33 L198.65 359.18 L198.80 359.49 L199.30 360.43 L199.80 361.32 L200.30 362.15 L200.80 362.93 L201.30 363.68 L201.80 364.39 L202.30 365.06 L202.80 365.71 L203.30 366.33 L203.80 366.92 L204.30 367.50 L204.80 368.05 L205.30 368.59 L205.80 369.11 L206.30 369.61 L206.80 370.10 L207.30 370.58 L207.80 371.04 L208.30 371.48 L208.80 371.92 L209.37 372.40 L209.82 392.76 L210.27 373.12 L210.80 373.52 L211.30 373.89 L211.80 374.24 L212.30 374.58 L212.80 374.91 L213.30 375.22 L213.80 375.51 L214.30 375.79 L214.80 376.05 L215.30 376.30 L215.80 376.53 L216.30 376.75 L216.80 376.94 L217.30 377.12 L217.80 377.28 L218.30 377.43 L218.80 377.55 L219.30 377.66 L219.80 377.75 L220.30 377.82 L220.80 377.87 L221.33 377.91 L221.78 340.29 L222.23 395.91 L222.68 377.90 L222.80 377.89 L223.30 377.85 L223.80 377.79 L224.30 377.71 L224.80 377.61 L225.30 377.49 L225.80 377.36 L226.30 377.20 L226.80 377.03 L227.30 376.84 L227.80 376.64 L228.30 376.42 L228.80 376.18 L229.30 375.93 L229.80 375.66 L230.30 375.37 L230.80 375.08 L231.30 374.77 L231.80 374.44 L232.30 374.11 L232.80 373.76 L233.17 373.49 L233.62 317.01 L234.07 382.11 L234.52 372.47 L234.80 372.25 L235.30 371.85 L235.80 371.45 L236.30 371.03 L236.80 370.61 L237.30 370.19 L237.80 369.76 L238.30 369.33 L238.80 368.89 L239.30 368.46 L239.80 368.02 L240.30 367.59 L240.80 367.15 L241.30 366.72 L241.80 366.29 L242.30 365.86 L242.80 365.44 L243.30 365.02 L243.80 364.61 L244.30 364.21 L244.89 363.74 L245.34 344.63 L245.79 358.95 L246.30 359.75 L246.80 360.22 L247.30 360.46 L247.80 360.55 L248.30 360.53 L248.80 360.44 L249.30 360.31 L249.80 360.14 L250.30 359.96 L250.80 359.77 L251.30 359.58 L251.80 359.40 L252.30 359.22 L252.80 359.06 L253.30 358.92 L253.80 358.79 L254.30 358.67 L254.80 358.58 L255.30 358.50 L255.80 358.44 L256.30 358.40 L256.51 358.39 L256.96 342.97 L257.41 396.86 L257.86 352.66 L258.30 353.95 L258.80 355.11 L259.30 356.01 L259.80 356.74 L260.30 357.33 L260.80 357.83 L261.30 358.27 L261.80 358.65 L262.30 359.01 L262.80 359.34 L263.30 359.67 L263.80 359.99 L264.30 360.31 L264.80 360.64 L265.30 360.97 L265.80 361.31 L266.30 361.66 L266.80 362.01 L267.30 362.38 L267.80 362.76 L268.01 362.92 L268.46 419.58 L268.91 354.33 L269.36 358.97 L269.80 359.87 L270.30 360.83 L270.80 361.73 L271.30 362.59 L271.80 363.40 L272.30 364.18 L272.80 364.92 L273.30 365.63 L273.80 366.31 L274.30 366.96 L274.80 367.60 L275.30 368.21 L275.80 368.81 L276.30 369.38 L276.80 369.94 L277.30 370.48 L277.80 371.00 L278.30 371.51 L278.80 372.00 L279.30 372.48 L279.41 372.58 L279.86 392.76 L280.31 373.39 L280.80 373.81 L281.30 374.23 L281.80 374.63 L282.30 375.00 L282.80 375.37 L283.30 375.71 L283.80 376.04 L284.30 376.34 L284.80 376.63 L285.30 376.90 L285.80 377.15 L286.30 377.38 L286.80 377.58 L287.30 377.77 L287.80 377.93 L288.30 378.08 L288.80 378.20 L289.30 378.30 L289.80 378.38 L290.30 378.43 L290.70 378.46 L291.15 340.29 L291.60 385.66 L292.05 378.45 L292.30 378.43 L292.80 378.37 L293.30 378.30 L293.80 378.19 L294.30 378.07 L294.80 377.93 L295.30 377.76 L295.80 377.57 L296.30 377.37 L296.80 377.14 L297.30 376.89 L297.80 376.62 L298.30 376.34 L298.80 376.04 L299.30 375.72 L299.80 375.38 L300.30 375.03 L300.80 374.66 L301.30 374.28 L301.89 373.81 L302.34 317.01 L302.79 376.19 L303.24 372.67 L303.80 372.17 L304.30 371.72 L304.80 371.26 L305.30 370.79 L305.80 370.32 L306.30 369.84 L306.80 369.35 L307.30 368.87 L307.80 368.38 L308.30 367.89 L308.80 367.41 L309.30 366.92 L309.80 366.44 L310.30 365.96 L310.80 365.48 L311.30 365.02 L311.80 364.55 L312.30 364.10 L312.80 363.66 L312.98 363.50 L313.43 344.63 L313.88 358.64 L314.30 359.29 L314.80 359.76 L315.30 360.00 L315.80 360.08 L316.30 360.04 L316.80 359.93 L317.30 359.78 L317.80 359.59 L318.30 359.39 L318.80 359.18 L319.30 358.98 L319.80 358.78 L320.30 358.60 L320.80 358.44 L321.30 358.29 L321.80 358.16 L322.30 358.05 L322.80 357.96 L323.30 357.89 L323.80 357.85 L323.97 357.84 L324.42 342.97 L324.87 396.86 L325.32 352.12 L325.80 353.50 L326.30 354.64 L326.80 355.55 L327.30 356.29 L327.80 356.90 L328.30 357.42 L328.80 357.88 L329.30 358.29 L329.80 358.68 L330.30 359.05 L330.80 359.42 L331.30 359.78 L331.80 360.15 L332.30 360.52 L332.80 360.90 L333.30 361.29 L333.80 361.70 L334.30 362.11 L334.88 362.60 L335.33 419.58 L335.78 354.33 L336.23 358.78 L336.80 359.99 L337.30 360.99 L337.80 361.93 L338.30 362.82 L338.80 363.68 L339.30 364.50 L339.80 365.28 L340.30 366.03 L340.80 366.76 L341.30 367.46 L341.80 368.14 L342.30 368.80 L342.80 369.44 L343.30 370.06 L343.80 370.65 L344.30 371.23 L344.80 371.79 L345.30 372.33 L345.69 372.74 L346.14 392.76 L346.59 373.65 L346.80 373.85 L347.30 374.32 L347.80 374.77 L348.30 375.20 L348.80 375.61 L349.30 376.00 L349.80 376.37 L350.30 376.71 L350.80 377.03 L351.30 377.33 L351.80 377.61 L352.30 377.86 L352.80 378.09 L353.30 378.29 L353.80 378.47 L354.30 378.62 L354.80 378.75 L355.30 378.85 L355.80 378.93 L356.30 378.98 L356.41 378.99 L356.86 340.29 L357.31 395.91 L357.76 378.97 L358.30 378.92 L358.80 378.84 L359.30 378.73 L359.80 378.60 L360.30 378.44 L360.80 378.25 L361.30 378.05 L361.80 377.82 L362.30 377.56 L362.80 377.28 L363.30 376.98 L363.80 376.66 L364.30 376.32 L364.80 375.96 L365.30 375.58 L365.80 375.18 L366.30 374.77 L366.80 374.33 L367.05 374.11 L367.50 317.01 L367.95 382.11 L368.40 372.85 L368.80 372.46 L369.30 371.96 L369.80 371.45 L370.30 370.93 L370.80 370.41 L371.30 369.88 L371.80 369.35 L372.30 368.81 L372.80 368.27 L373.30 367.73 L373.80 367.20 L374.30 366.66 L374.80 366.13 L375.30 365.60 L375.80 365.08 L376.30 364.57 L376.80 364.06 L377.30 363.57 L377.60 363.28 L378.05 344.63 L378.50 358.34 L378.80 358.80 L379.30 359.31 L379.80 359.56 L380.30 359.64 L380.80 359.59 L381.30 359.47 L381.80 359.29 L382.30 359.09 L382.80 358.87 L383.30 358.65 L383.80 358.43 L384.30 358.23 L384.80 358.03 L385.30 357.86 L385.80 357.71 L386.30 357.58 L386.80 357.48 L387.30 357.40 L387.80 357.34 L388.08 357.32 L388.53 342.97 L388.98 396.86 L389.43 351.61 L389.80 352.73 L390.30 353.94 L390.80 354.91 L391.30 355.69 L391.80 356.35 L392.30 356.91 L392.80 357.41 L393.30 357.86 L393.80 358.29 L394.30 358.70 L394.80 359.11 L395.30 359.51 L395.80 359.93 L396.30 360.35 L396.80 360.78 L397.30 361.22 L397.80 361.67 L398.30 362.14 L398.47 362.30 L398.92 419.58 L399.37 354.33 L399.82 358.60 L400.30 359.66 L400.80 360.72 L401.30 361.72 L401.80 362.67 L402.30 363.59 L402.80 364.46 L403.30 365.30 L403.80 366.11 L404.30 366.90 L404.80 367.65 L405.30 368.39 L405.80 369.09 L406.30 369.78 L406.80 370.45 L407.30 371.09 L407.80 371.71 L408.30 372.31 L408.79 372.89 L409.24 392.76 L409.69 373.88 L409.80 374.00 L410.30 374.52 L410.80 375.01 L411.30 375.49 L411.80 375.94 L412.30 376.36 L412.80 376.76 L413.30 377.14 L413.80 377.49 L414.30 377.81 L414.80 378.11 L415.30 378.37 L415.80 378.61 L416.30 378.82 L416.80 379.01 L417.30 379.16 L417.80 379.29 L418.30 379.38 L418.80 379.44 L419.04 379.47 L419.49 340.29 L419.94 385.66 L420.39 379.45 L420.80 379.40 L421.30 379.32 L421.80 379.20 L422.30 379.06 L422.80 378.89 L423.30 378.68 L423.80 378.46 L424.30 378.20 L424.80 377.92 L425.30 377.61 L425.80 377.27 L426.30 376.91 L426.80 376.53 L427.30 376.13 L427.80 375.70 L428.30 375.26 L428.80 374.80 L429.22 374.39 L429.67 317.01 L430.12 376.19 L430.57 373.01 L430.80 372.77 L431.30 372.23 L431.80 371.68 L432.30 371.12 L432.80 370.55 L433.30 369.97 L433.80 369.39 L434.30 368.80 L434.80 368.22 L435.30 367.63 L435.80 367.05 L436.30 366.46 L436.80 365.89 L437.30 365.32 L437.80 364.75 L438.30 364.20 L438.80 363.65 L439.34 363.08 L439.79 344.63 L440.24 358.07 L440.80 358.79 L441.30 359.12 L441.80 359.24 L442.30 359.21 L442.80 359.09 L443.30 358.92 L443.80 358.70 L444.30 358.47 L444.80 358.23 L445.30 358.00 L445.80 357.78 L446.30 357.58 L446.80 357.40 L447.30 357.24 L447.80 357.10 L448.30 357.00 L448.80 356.92 L449.39 356.86 L449.84 342.97 L450.29 396.86 L450.74 351.16 L451.30 352.78 L451.80 353.90 L452.30 354.81 L452.80 355.56 L453.30 356.20 L453.80 356.76 L454.30 357.27 L454.80 357.74 L455.30 358.20 L455.80 358.64 L456.30 359.09 L456.80 359.54 L457.30 360.00 L457.80 360.47 L458.30 360.95 L458.80 361.45 L459.37 362.04 L459.82 419.58 L460.27 354.33 L460.72 358.45 L461.30 359.77 L461.80 360.86 L462.30 361.90 L462.80 362.89 L463.30 363.84 L463.80 364.76 L464.30 365.64 L464.80 366.49 L465.30 367.31 L465.80 368.11 L466.30 368.88 L466.80 369.63 L467.30 370.35 L467.80 371.05 L468.30 371.73 L468.80 372.38 L469.30 373.01 L469.75 392.76 L470.20 374.09 L470.80 374.76 L471.30 375.30 L471.80 375.81 L472.30 376.29 L472.80 376.74 L473.30 377.17 L473.80 377.57 L474.30 377.93 L474.80 378.27 L475.30 378.58 L475.80 378.86 L476.30 379.10 L476.80 379.32 L477.30 379.50 L477.80 379.64 L478.30 379.76 L478.80 379.84 L479.18 379.88 L479.63 340.29 L480.08 395.91 L480.53 379.86 L480.80 379.83 L481.30 379.74 L481.80 379.62 L482.30 379.47 L482.80 379.28 L483.30 379.06 L483.80 378.82 L484.30 378.54 L484.80 378.23 L485.30 377.89 L485.80 377.53 L486.30 377.14 L486.80 376.72 L487.30 376.28 L487.80 375.82 L488.30 375.33 L488.80 374.83 L489.00 374.63 L489.45 317.01 L489.90 382.11 L490.35 373.15 L490.80 372.62 L491.30 372.04 L491.80 371.44 L492.30 370.83 L492.80 370.21 L493.30 369.59 L493.80 368.96 L494.30 368.34 L494.80 367.71 L495.30 367.08 L495.80 366.46 L496.30 365.84 L496.80 365.22 L497.30 364.62 L497.80 364.03 L498.30 363.44 L498.76 362.92 L499.21 344.63 L499.66 357.84 L499.80 358.05 L500.30 358.59 L500.80 358.85 L501.30 358.91 L501.80 358.85 L502.30 358.70 L502.80 358.49 L503.30 358.26 L503.80 358.01 L504.30 357.76 L504.80 357.52 L505.30 357.30 L505.80 357.10 L506.30 356.92 L506.80 356.77 L507.30 356.65 L507.80 356.56 L508.30 356.50 L508.48 356.48 L508.93 342.97 L509.38 396.86 L509.83 350.78 L510.30 352.16 L510.80 353.35 L511.30 354.31 L511.80 355.10 L512.30 355.78 L512.80 356.37 L513.30 356.92 L513.80 357.42 L514.30 357.91 L514.80 358.39 L515.30 358.87 L515.80 359.36 L516.30 359.85 L516.80 360.36 L517.30 360.88 L517.80 361.42 L518.16 361.81 L518.61 419.58 L519.06 354.33 L519.51 358.33 L519.80 359.03 L520.30 360.19 L520.80 361.29 L521.30 362.35 L521.80 363.36 L522.30 364.33 L522.80 365.27 L523.30 366.18 L523.80 367.06 L524.30 367.91 L524.80 368.73 L525.30 369.53 L525.80 370.30 L526.30 371.04 L526.80 371.76 L527.30 372.46 L527.79 373.11 L528.24 392.76 L528.69 374.26 L528.80 374.39 L529.30 374.98 L529.80 375.55 L530.30 376.08 L530.80 376.59 L531.30 377.07 L531.80 377.51 L532.30 377.93 L532.80 378.31 L533.20 378.59"/>
</g><g font-family="'Liberation Serif', 'Times New Roman', serif" fill="#1e1e1e"><text x="65.35" y="17.20" text-anchor="end" font-size="16.6" >200</text>
<text x="65.35" y="58.62" text-anchor="end" font-size="16.6" >100</text>
<text x="65.35" y="100.05" text-anchor="end" font-size="16.6" >0</text>
<text x="65.35" y="141.47" text-anchor="end" font-size="16.6" >-100</text>
<text x="65.35" y="182.90" text-anchor="end" font-size="16.6" >-200</text>
<text x="73.45" y="199.90" text-anchor="middle" font-size="16.6" >1</text>
<text x="164.70" y="199.90" text-anchor="middle" font-size="16.6" >1.05</text>
<text x="255.95" y="199.90" text-anchor="middle" font-size="16.6" >1.1</text>
<text x="347.20" y="199.90" text-anchor="middle" font-size="16.6" >1.15</text>
<text x="438.45" y="199.90" text-anchor="middle" font-size="16.6" >1.2</text>
<text x="529.70" y="199.90" text-anchor="middle" font-size="16.6" >1.25</text>
<text x="69.80" y="295.60" text-anchor="end" font-size="16.6" >1000</text>
<text x="69.80" y="335.05" text-anchor="end" font-size="16.6" >500</text>
<text x="69.80" y="374.50" text-anchor="end" font-size="16.6" >0</text>
<text x="69.80" y="413.95" text-anchor="end" font-size="16.6" >-500</text>
<text x="69.80" y="453.40" text-anchor="end" font-size="16.6" >-1000</text>
<text x="77.30" y="470.00" text-anchor="middle" font-size="16.6" >1</text>
<text x="168.48" y="470.00" text-anchor="middle" font-size="16.6" >1.1</text>
<text x="259.66" y="470.00" text-anchor="middle" font-size="16.6" >1.2</text>
<text x="350.84" y="470.00" text-anchor="middle" font-size="16.6" >1.3</text>
<text x="442.02" y="470.00" text-anchor="middle" font-size="16.6" >1.4</text>
<text x="533.20" y="470.00" text-anchor="middle" font-size="16.6" >1.5</text>
<text x="301.80" y="222.90" text-anchor="middle" font-size="18.9" >Time (s)</text>
<text x="304.50" y="491.60" text-anchor="middle" font-size="18.7" >Time (s)</text>
<text transform="translate(24.6 93.9) rotate(-90)" text-anchor="middle" font-size="18.75">Line current (amp)</text>
<text transform="translate(20.0 368.4) rotate(-90)" text-anchor="middle" font-size="18.0">Line voltage (volts)</text>
<text x="492.40" y="229.60" font-size="22.5">×</text>
<text x="506.60" y="225.70" font-size="17">10</text>
<text x="523.60" y="217.40" font-size="12.9">5</text>
<text x="495.40" y="498.60" font-size="22.5">×</text>
<text x="509.60" y="494.70" font-size="17">10</text>
<text x="526.60" y="486.40" font-size="12.9">5</text>
<text x="265.0" y="259.0" font-size="22.8" fill="#000">(</text>
<text transform="translate(272.3 259.0) scale(0.94 1)" font-size="23" font-weight="bold" fill="#000">a</text>
<text x="283.4" y="259.0" font-size="22.8" fill="#000">)</text>
<text x="263.8" y="527.2" font-size="22.8" fill="#000">(</text>
<text transform="translate(272.3 527.2) scale(0.85 1)" font-size="23" font-weight="bold" fill="#000">b</text>
<text x="284.6" y="527.2" font-size="22.8" fill="#000">)</text></g></svg></body></html>
